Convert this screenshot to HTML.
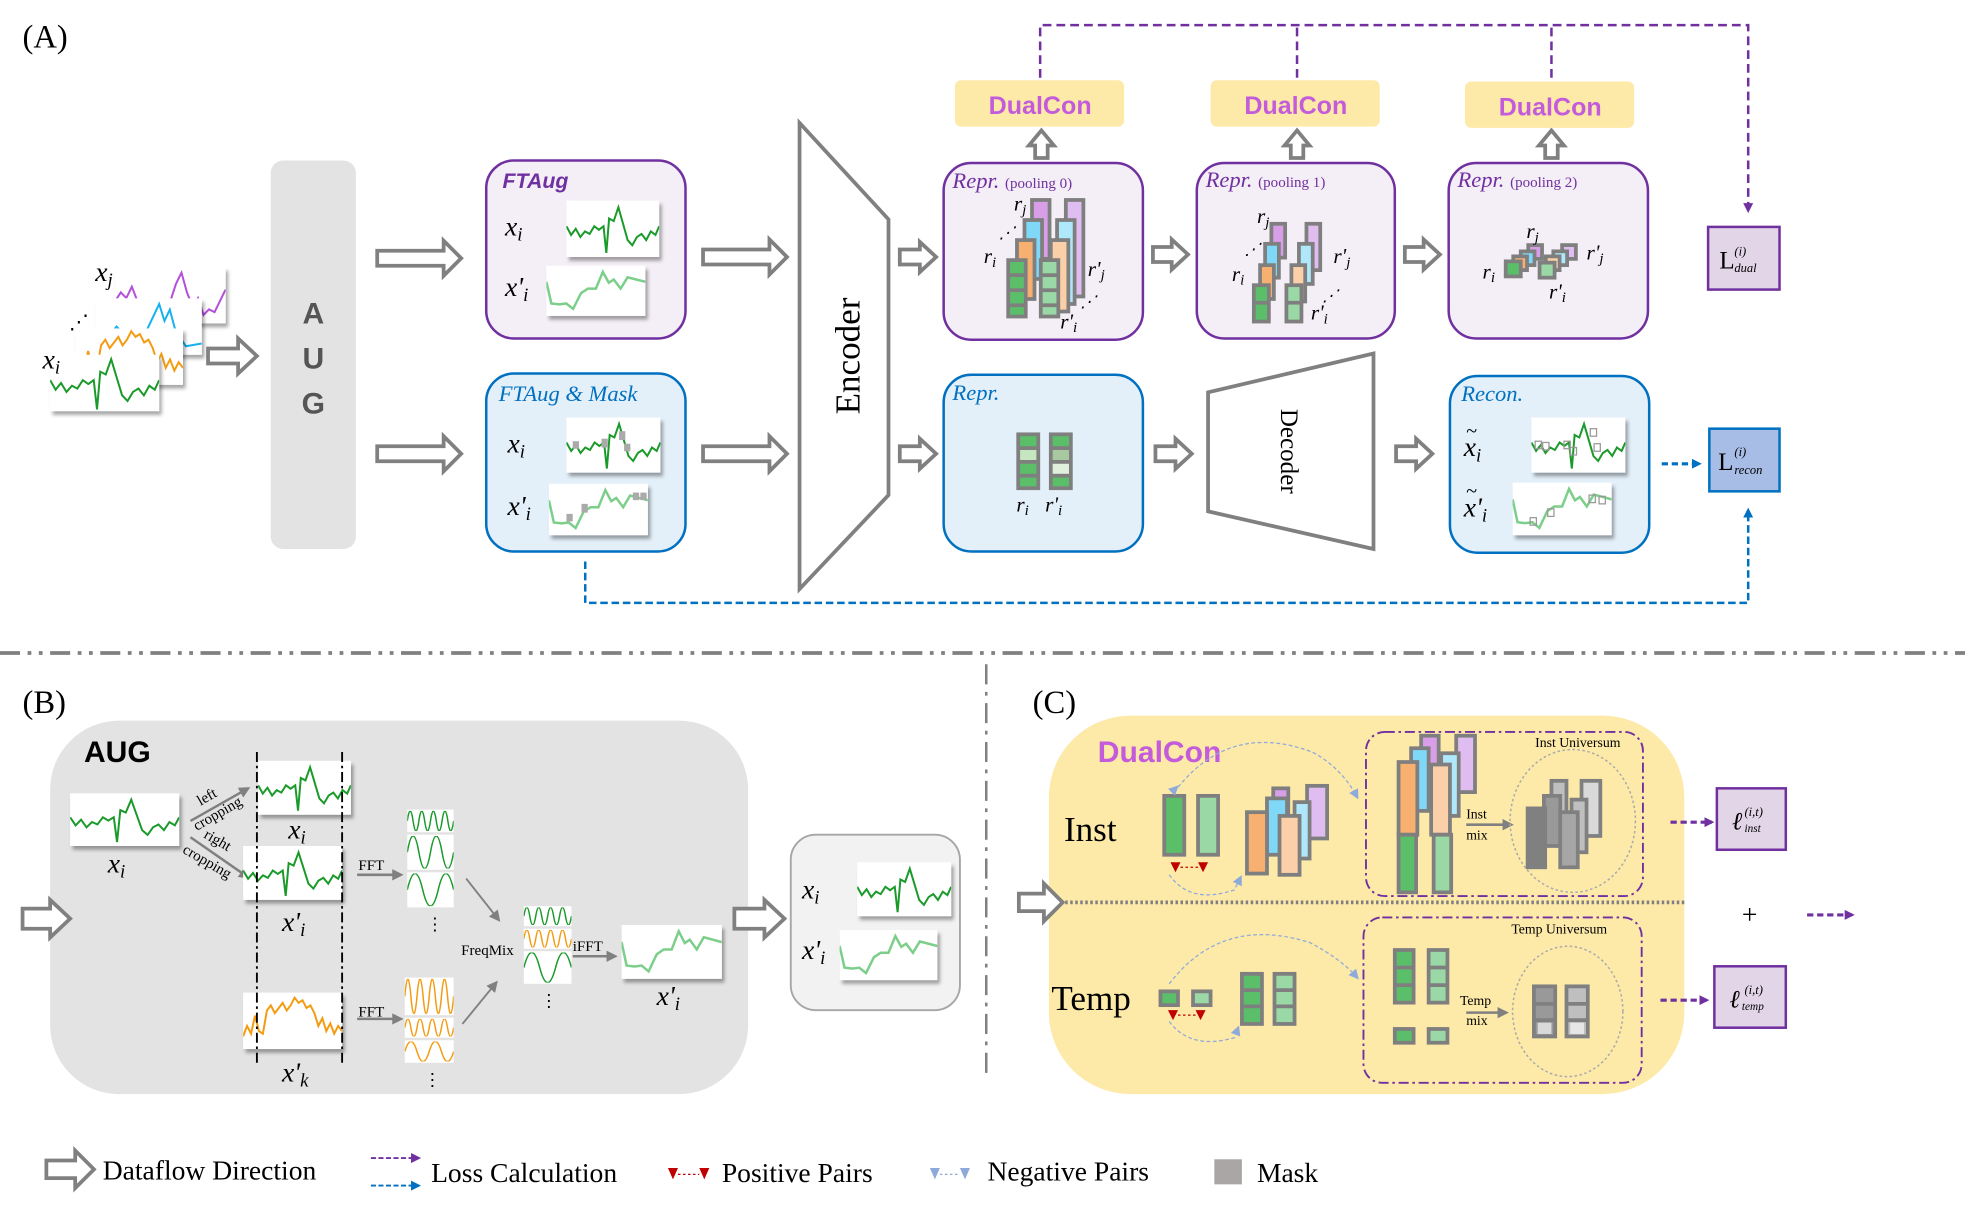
<!DOCTYPE html>
<html><head><meta charset="utf-8"><style>
html,body{margin:0;padding:0;background:#fff}
svg{display:block}
text{font-family:"Liberation Serif",serif}
.m,.m text{font-family:"Liberation Serif",serif;font-style:italic}
.s,.s text{font-family:"Liberation Sans",sans-serif}
</style></head><body>
<svg width="1965" height="1207" viewBox="0 0 1568 963" xmlns="http://www.w3.org/2000/svg">
<defs>
<filter id="sh" x="-10%" y="-10%" width="130%" height="140%"><feDropShadow dx="2" dy="3" stdDeviation="1.5" flood-color="#000" flood-opacity="0.35"/></filter>
<symbol id="g1" viewBox="0 0 100 100" preserveAspectRatio="none"><polyline points="0,45 5,62 10,50 15,66 20,55 25,60 30,45 35,52 40,45 43,97 46,30 51,35 56,8 61,40 66,72 71,82 76,66 81,60 86,72 91,55 96,62 100,45" fill="none" stroke="#1a9a2a" stroke-width="2" vector-effect="non-scaling-stroke"/></symbol>
<symbol id="g2" viewBox="0 0 100 100" preserveAspectRatio="none"><polyline points="0,30 5,78 13,80 20,78 27,90 35,55 42,45 50,45 57,8 63,32 68,25 75,45 82,20 100,30" fill="none" stroke="#7ccf8a" stroke-width="2.5" vector-effect="non-scaling-stroke"/></symbol>
<symbol id="o1" viewBox="0 0 100 100" preserveAspectRatio="none"><polyline points="0,80 4,60 8,75 12,40 16,70 20,75 24,30 28,20 32,35 36,25 40,15 44,30 48,20 52,5 56,15 60,10 64,25 68,20 72,35 76,60 80,45 84,70 88,55 92,75 96,60 100,70" fill="none" stroke="#f39c12" stroke-width="2" vector-effect="non-scaling-stroke"/></symbol>
<symbol id="p1" viewBox="0 0 100 100" preserveAspectRatio="none"><polyline points="0,60 5,45 10,55 15,35 20,60 25,90 30,80 40,85 50,60 55,30 60,10 65,45 70,70 75,55 80,85 85,75 90,80 95,60 100,40" fill="none" stroke="#b34fd9" stroke-width="2" vector-effect="non-scaling-stroke"/></symbol>
<symbol id="b1" viewBox="0 0 100 100" preserveAspectRatio="none"><polyline points="0,70 10,75 20,50 25,60 35,80 45,70 55,30 60,10 65,40 70,20 75,55 85,85 100,80" fill="none" stroke="#16b1ef" stroke-width="2" vector-effect="non-scaling-stroke"/></symbol>
<symbol id="w4" viewBox="0 0 100 100" preserveAspectRatio="none"><path d="M0,50 Q6.25,-50 12.5,50 Q18.75,150 25,50 Q31.25,-50 37.5,50 Q43.75,150 50,50 Q56.25,-50 62.5,50 Q68.75,150 75,50 Q81.25,-50 87.5,50 Q93.75,150 100,50" fill="none" stroke="currentColor" stroke-width="1.5" vector-effect="non-scaling-stroke"/></symbol>
<symbol id="w2" viewBox="0 0 100 100" preserveAspectRatio="none"><path d="M0,50 Q12.5,-50 25,50 Q37.5,150 50,50 Q62.5,-50 75,50 Q87.5,150 100,50" fill="none" stroke="currentColor" stroke-width="1.5" vector-effect="non-scaling-stroke"/></symbol>
<symbol id="w1" viewBox="0 0 100 100" preserveAspectRatio="none"><path d="M0,50 Q16.7,-50 33.3,50 Q50,150 66.7,50 Q83.3,-50 100,50" fill="none" stroke="currentColor" stroke-width="1.5" vector-effect="non-scaling-stroke"/></symbol>
<marker id="ap" markerWidth="8" markerHeight="8" refX="6" refY="4" orient="auto" markerUnits="userSpaceOnUse"><path d="M0,0 L8,4 L0,8z" fill="#7030a0"/></marker>
<marker id="ab" markerWidth="8" markerHeight="8" refX="6" refY="4" orient="auto" markerUnits="userSpaceOnUse"><path d="M0,0 L8,4 L0,8z" fill="#0070c0"/></marker>
<marker id="ag" markerWidth="9" markerHeight="9" refX="7" refY="4.5" orient="auto" markerUnits="userSpaceOnUse"><path d="M0,0 L9,4.5 L0,9z" fill="#808080"/></marker>
<marker id="an" markerWidth="8" markerHeight="8" refX="6" refY="4" orient="auto" markerUnits="userSpaceOnUse"><path d="M0,0 L8,4 L0,8z" fill="#8eaadb"/></marker>
</defs>

<text x="18" y="38" font-size="26">(A)</text>

<rect x="92" y="213" width="88" height="45" fill="#fff" filter="url(#sh)"/><use href="#p1" x="92" y="213" width="88" height="45"/>
<rect x="76" y="238" width="85" height="45" fill="#fff" filter="url(#sh)"/><use href="#b1" x="76" y="238" width="85" height="45"/>
<rect x="60" y="262" width="86" height="45" fill="#fff" filter="url(#sh)"/><use href="#o1" x="60" y="262" width="86" height="45"/>
<rect x="40" y="283" width="87" height="45" fill="#fff" filter="url(#sh)"/><use href="#g1" x="40" y="283" width="87" height="45"/>
<text class="m" x="76" y="224" font-size="22">x<tspan font-size="15" dy="4">j</tspan></text>
<text x="55" y="262" font-size="16">⋰</text>
<text class="m" x="34" y="294" font-size="22">x<tspan font-size="15" dy="4">i</tspan></text>

<g fill="#fff" stroke="#808080" stroke-width="3" stroke-linejoin="miter">
<path d="M166,278 H190 V270 L205,284 L190,298 V290 H166Z"/>
<path d="M301,200 H354 V192 L368,206 L354,220 V212 H301Z"/>
<path d="M301,356 H354 V348 L368,362 L354,376 V368 H301Z"/>
<path d="M561,199 H614 V191 L628,205 L614,219 V211 H561Z"/>
<path d="M561,356 H614 V348 L628,362 L614,376 V368 H561Z"/>
<path d="M718,199 H734 V193 L747,205 L734,217 V211 H718Z"/>
<path d="M718,356 H734 V350 L747,362 L734,374 V368 H718Z"/>
<path d="M920,197 H935 V191 L948,203 L935,215 V209 H920Z"/>
<path d="M1121,197 H1136 V191 L1149,203 L1136,215 V209 H1121Z"/>
<path d="M922,356 H938 V350 L951,362 L938,374 V368 H922Z"/>
<path d="M1114,356 H1130 V350 L1143,362 L1130,374 V368 H1114Z"/>
<path d="M826,126 V116 H821 L831,104 L841,116 H836 V126Z"/>
<path d="M1030,126 V116 H1025 L1035,104 L1045,116 H1040 V126Z"/>
<path d="M1233,126 V116 H1228 L1238,104 L1248,116 H1243 V126Z"/>
</g>

<rect x="216" y="128" width="68" height="310" rx="10" fill="#e3e3e3"/>
<g class="s" font-size="24" font-weight="bold" fill="#555" text-anchor="middle">
<text x="250" y="258">A</text><text x="250" y="294">U</text><text x="250" y="330">G</text></g>

<rect x="388" y="128" width="159" height="142" rx="22" fill="#f4eff6" stroke="#7030a0" stroke-width="2"/>
<text x="401" y="150" class="s" font-size="17" font-style="italic" font-weight="bold" fill="#7030a0">FTAug</text>
<text class="m" x="403" y="188" font-size="22">x<tspan font-size="15" dy="4">i</tspan></text>
<text class="m" x="403" y="236" font-size="22">x'<tspan font-size="15" dy="4">i</tspan></text>
<rect x="452" y="160" width="74" height="45" fill="#fff" filter="url(#sh)"/><use href="#g1" x="452" y="162" width="74" height="41"/>
<rect x="436" y="212" width="79" height="40" fill="#fff" filter="url(#sh)"/><use href="#g2" x="436" y="214" width="79" height="36"/>

<rect x="388" y="298" width="159" height="142" rx="22" fill="#e3eff9" stroke="#0070c0" stroke-width="2"/>
<text class="m" x="398" y="320" font-size="18" fill="#0070c0">FTAug &amp; Mask</text>
<text class="m" x="405" y="361" font-size="22">x<tspan font-size="15" dy="4">i</tspan></text>
<text class="m" x="405" y="411" font-size="22">x'<tspan font-size="15" dy="4">i</tspan></text>
<rect x="452" y="333" width="75" height="44" fill="#fff" filter="url(#sh)"/><use href="#g1" x="452" y="335" width="75" height="40"/>
<g fill="#aaa"><rect x="457" y="352" width="5" height="6"/><rect x="480" y="350" width="5" height="7"/><rect x="494" y="344" width="5" height="7"/><rect x="498" y="354" width="5" height="6"/></g>
<rect x="438" y="386" width="79" height="41" fill="#fff" filter="url(#sh)"/><use href="#g2" x="438" y="388" width="79" height="37"/>
<g fill="#aaa"><rect x="452" y="410" width="5" height="6"/><rect x="464" y="402" width="5" height="7"/><rect x="505" y="393" width="5" height="6"/><rect x="511" y="393" width="5" height="6"/></g>

<path d="M638,98 L709,175 L709,395 L638,470Z" fill="#fff" stroke="#808080" stroke-width="3"/>
<text x="0" y="0" font-size="28" transform="translate(686,284) rotate(-90)" text-anchor="middle">Encoder</text>

<g class="s" font-size="20" font-weight="bold" fill="#c35bdb" text-anchor="middle">
<rect x="762" y="64" width="135" height="37" rx="5" fill="#fde9a8"/><text x="830" y="91">DualCon</text>
<rect x="966" y="64" width="135" height="37" rx="5" fill="#fde9a8"/><text x="1034" y="91">DualCon</text>
<rect x="1169" y="65" width="135" height="37" rx="5" fill="#fde9a8"/><text x="1237" y="92">DualCon</text>
</g>
<path d="M830,62 V20 H1395 V168" fill="none" stroke="#7030a0" stroke-width="2" stroke-dasharray="7,4" marker-end="url(#ap)"/>
<path d="M1035,62 V20 M1238,62 V20" fill="none" stroke="#7030a0" stroke-width="2" stroke-dasharray="7,4"/>

<g fill="#f4eff6" stroke="#7030a0" stroke-width="2">
<rect x="753" y="130" width="159" height="141" rx="22"/>
<rect x="955" y="130" width="158" height="140" rx="22"/>
<rect x="1156" y="130" width="159" height="140" rx="22"/>
</g>
<g class="m" fill="#7030a0" font-size="18">
<text x="760" y="150">Repr. <tspan font-size="12" font-style="normal">(pooling 0)</tspan></text>
<text x="962" y="149">Repr. <tspan font-size="12" font-style="normal">(pooling 1)</tspan></text>
<text x="1163" y="149">Repr. <tspan font-size="12" font-style="normal">(pooling 2)</tspan></text>
</g>
<g>
<rect x="849" y="158" width="17" height="80" fill="#7f7f7f"/><rect x="852" y="161" width="11" height="74" fill="#e0bdf0"/>
<rect x="822" y="158" width="17" height="50" fill="#7f7f7f"/><rect x="825" y="161" width="11" height="44" fill="#d89ee8"/>
<rect x="842" y="174" width="17" height="70" fill="#7f7f7f"/><rect x="845" y="177" width="11" height="64" fill="#b0e8fb"/>
<rect x="816" y="174" width="17" height="50" fill="#7f7f7f"/><rect x="819" y="177" width="11" height="44" fill="#7fd8f8"/>
<rect x="837" y="190" width="17" height="60" fill="#7f7f7f"/><rect x="840" y="193" width="11" height="54" fill="#fbd0a8"/>
<rect x="810" y="190" width="17" height="50" fill="#7f7f7f"/><rect x="813" y="193" width="11" height="44" fill="#f8b070"/>
<rect x="803" y="206" width="17" height="48" fill="#7f7f7f"/>
<rect x="806" y="209" width="11" height="9" fill="#5bbf6a"/><rect x="806" y="221" width="11" height="9" fill="#5bbf6a"/><rect x="806" y="233" width="11" height="9" fill="#5bbf6a"/><rect x="806" y="245" width="11" height="6" fill="#5bbf6a"/>
<rect x="829" y="206" width="17" height="48" fill="#7f7f7f"/>
<rect x="832" y="209" width="11" height="9" fill="#9ad8a5"/><rect x="832" y="221" width="11" height="9" fill="#9ad8a5"/><rect x="832" y="233" width="11" height="9" fill="#9ad8a5"/><rect x="832" y="245" width="11" height="6" fill="#9ad8a5"/>
</g>
<g class="m" font-size="17">
<text x="809" y="168">r<tspan font-size="12" dy="3">j</tspan></text>
<text x="785" y="210">r<tspan font-size="12" dy="3">i</tspan></text>
<text x="868" y="220">r'<tspan font-size="12" dy="3">j</tspan></text>
<text x="846" y="262">r'<tspan font-size="12" dy="3">i</tspan></text>
<text x="797" y="190" font-size="13" font-style="normal">⋰</text>
<text x="862" y="245" font-size="13" font-style="normal">⋰</text>
</g>
<g>
<rect x="1041" y="177" width="14" height="40" fill="#7f7f7f"/><rect x="1044" y="180" width="8" height="34" fill="#e0bdf0"/>
<rect x="1013" y="177" width="14" height="30" fill="#7f7f7f"/><rect x="1016" y="180" width="8" height="24" fill="#d89ee8"/>
<rect x="1035" y="193" width="14" height="35" fill="#7f7f7f"/><rect x="1038" y="196" width="8" height="29" fill="#b0e8fb"/>
<rect x="1008" y="193" width="14" height="30" fill="#7f7f7f"/><rect x="1011" y="196" width="8" height="24" fill="#7fd8f8"/>
<rect x="1029" y="210" width="14" height="32" fill="#7f7f7f"/><rect x="1032" y="213" width="8" height="26" fill="#fbd0a8"/>
<rect x="1004" y="210" width="14" height="30" fill="#7f7f7f"/><rect x="1007" y="213" width="8" height="24" fill="#f8b070"/>
<rect x="999" y="226" width="15" height="32" fill="#7f7f7f"/><rect x="1002" y="229" width="9" height="11" fill="#5bbf6a"/><rect x="1002" y="243" width="9" height="12" fill="#5bbf6a"/>
<rect x="1025" y="226" width="15" height="32" fill="#7f7f7f"/><rect x="1028" y="229" width="9" height="11" fill="#9ad8a5"/><rect x="1028" y="243" width="9" height="12" fill="#9ad8a5"/>
</g>
<g class="m" font-size="17">
<text x="1003" y="178">r<tspan font-size="12" dy="3">j</tspan></text>
<text x="983" y="224">r<tspan font-size="12" dy="3">i</tspan></text>
<text x="1064" y="210">r'<tspan font-size="12" dy="3">j</tspan></text>
<text x="1046" y="255">r'<tspan font-size="12" dy="3">i</tspan></text>
<text x="993" y="203" font-size="13" font-style="normal">⋰</text>
<text x="1055" y="240" font-size="13" font-style="normal">⋰</text>
</g>
<g>
<rect x="1218" y="194" width="14" height="14" fill="#7f7f7f"/><rect x="1221" y="197" width="8" height="8" fill="#d89ee8"/>
<rect x="1245" y="194" width="14" height="14" fill="#7f7f7f"/><rect x="1248" y="197" width="8" height="8" fill="#e0bdf0"/>
<rect x="1212" y="199" width="14" height="14" fill="#7f7f7f"/><rect x="1215" y="202" width="8" height="8" fill="#7fd8f8"/>
<rect x="1238" y="199" width="14" height="14" fill="#7f7f7f"/><rect x="1241" y="202" width="8" height="8" fill="#b0e8fb"/>
<rect x="1206" y="203" width="14" height="14" fill="#7f7f7f"/><rect x="1209" y="206" width="8" height="8" fill="#f8b070"/>
<rect x="1232" y="203" width="14" height="14" fill="#7f7f7f"/><rect x="1235" y="206" width="8" height="8" fill="#fbd0a8"/>
<rect x="1200" y="207" width="15" height="15" fill="#7f7f7f"/><rect x="1203" y="210" width="9" height="9" fill="#5bbf6a"/>
<rect x="1227" y="208" width="15" height="15" fill="#7f7f7f"/><rect x="1230" y="211" width="9" height="9" fill="#9ad8a5"/>
</g>
<g class="m" font-size="17">
<text x="1218" y="190">r<tspan font-size="12" dy="3">j</tspan></text>
<text x="1183" y="222">r<tspan font-size="12" dy="3">i</tspan></text>
<text x="1266" y="207">r'<tspan font-size="12" dy="3">j</tspan></text>
<text x="1236" y="238">r'<tspan font-size="12" dy="3">i</tspan></text>
</g>

<rect x="1363" y="181" width="57" height="50" fill="#e1d5e7" stroke="#7030a0" stroke-width="2"/>
<text x="1372" y="214" font-size="20">L</text><text class="m" x="1384" y="204" font-size="10">(i)</text><text class="m" x="1384" y="217" font-size="10">dual</text>

<rect x="753" y="299" width="159" height="141" rx="22" fill="#e3eff9" stroke="#0070c0" stroke-width="2"/>
<text class="m" x="760" y="319" font-size="18" fill="#0070c0">Repr.</text>
<rect x="811" y="345" width="19" height="46" fill="#7f7f7f"/>
<rect x="814" y="348" width="13" height="8" fill="#5bbf6a"/><rect x="814" y="359" width="13" height="8" fill="#c6e6c0"/><rect x="814" y="370" width="13" height="8" fill="#5bbf6a"/><rect x="814" y="381" width="13" height="7" fill="#5bbf6a"/>
<rect x="837" y="345" width="19" height="46" fill="#7f7f7f"/>
<rect x="840" y="348" width="13" height="8" fill="#5bbf6a"/><rect x="840" y="359" width="13" height="8" fill="#a8c8a0"/><rect x="840" y="370" width="13" height="8" fill="#e0f0dc"/><rect x="840" y="381" width="13" height="7" fill="#5bbf6a"/>
<text class="m" x="811" y="408" font-size="17">r<tspan font-size="12" dy="3">i</tspan></text>
<text class="m" x="834" y="408" font-size="17">r'<tspan font-size="12" dy="3">i</tspan></text>

<path d="M964,313 L1096,282 L1096,438 L964,408Z" fill="#fff" stroke="#808080" stroke-width="3"/>
<text font-size="20" transform="translate(1022,360) rotate(90)" text-anchor="middle">Decoder</text>

<rect x="1157" y="300" width="159" height="141" rx="22" fill="#e3eff9" stroke="#0070c0" stroke-width="2"/>
<text class="m" x="1166" y="320" font-size="18" fill="#0070c0">Recon.</text>
<text class="m" x="1168" y="364" font-size="22">x<tspan font-size="15" dy="4">i</tspan></text><text x="1170" y="349" font-size="16">~</text>
<text class="m" x="1168" y="412" font-size="22">x'<tspan font-size="15" dy="4">i</tspan></text><text x="1170" y="397" font-size="16">~</text>
<rect x="1222" y="333" width="75" height="44" fill="#fff" filter="url(#sh)"/><use href="#g1" x="1222" y="335" width="75" height="40"/>
<g fill="none" stroke="#999" stroke-width="1"><rect x="1225" y="352" width="5" height="6"/><rect x="1231" y="353" width="5" height="6"/><rect x="1248" y="352" width="5" height="6"/><rect x="1253" y="357" width="5" height="6"/><rect x="1269" y="342" width="5" height="6"/><rect x="1272" y="354" width="5" height="6"/></g>
<rect x="1207" y="385" width="79" height="42" fill="#fff" filter="url(#sh)"/><use href="#g2" x="1207" y="387" width="79" height="38"/>
<g fill="none" stroke="#999" stroke-width="1"><rect x="1221" y="413" width="5" height="6"/><rect x="1235" y="406" width="5" height="6"/><rect x="1268" y="395" width="5" height="6"/><rect x="1276" y="396" width="5" height="6"/></g>

<rect x="1364" y="342" width="56" height="50" fill="#a8bde6" stroke="#0070c0" stroke-width="2"/>
<text x="1371" y="375" font-size="20">L</text><text class="m" x="1384" y="364" font-size="10">(i)</text><text class="m" x="1384" y="378" font-size="10">recon</text>
<path d="M1326,370 H1356" stroke="#0070c0" stroke-width="2.5" stroke-dasharray="5,3" marker-end="url(#ab)"/>
<path d="M467,448 V481 H1395 V407" fill="none" stroke="#0070c0" stroke-width="2" stroke-dasharray="6,3" marker-end="url(#ab)"/>

<path d="M0,521 H1568" stroke="#808080" stroke-width="3" stroke-dasharray="16,6,3,6,3,6"/>
<path d="M787,530 V862" stroke="#808080" stroke-width="2" stroke-dasharray="16,6,3,6"/>

<text x="18" y="569" font-size="26">(B)</text>
<rect x="40" y="575" width="557" height="298" rx="55" fill="#e3e3e3"/>
<text class="s" x="67" y="608" font-size="24" font-weight="bold">AUG</text>
<path d="M18,725 H40 V718 L56,733 L40,748 V741 H18Z" fill="#fff" stroke="#808080" stroke-width="3"/>
<rect x="56" y="633" width="87" height="42" fill="#fff" filter="url(#sh)"/><use href="#g1" x="56" y="635" width="87" height="38"/>
<text class="m" x="86" y="696" font-size="22">x<tspan font-size="15" dy="4">i</tspan></text>
<line x1="152" y1="655" x2="198" y2="629" stroke="#808080" stroke-width="2" marker-end="url(#ag)"/>
<line x1="152" y1="668" x2="198" y2="700" stroke="#808080" stroke-width="2" marker-end="url(#ag)"/>
<text font-size="12" transform="translate(160,643) rotate(-30)">left</text>
<text font-size="12" transform="translate(157,663) rotate(-30)">cropping</text>
<text font-size="12" transform="translate(162,668) rotate(30)">right</text>
<text font-size="12" transform="translate(145,680) rotate(30)">cropping</text>
<rect x="206" y="607" width="74" height="43" fill="#fff" filter="url(#sh)"/><use href="#g1" x="206" y="609" width="74" height="39"/>
<rect x="194" y="675" width="79" height="43" fill="#fff" filter="url(#sh)"/><use href="#g1" x="194" y="677" width="79" height="39"/>
<rect x="194" y="792" width="79" height="45" fill="#fff" filter="url(#sh)"/><use href="#o1" x="194" y="794" width="79" height="41"/>
<path d="M205,600 V850 M273,600 V850" stroke="#000" stroke-width="1.5" stroke-dasharray="8,3,2,3"/>
<text class="m" x="230" y="669" font-size="22">x<tspan font-size="15" dy="4">i</tspan></text>
<text class="m" x="225" y="743" font-size="22">x'<tspan font-size="15" dy="4">i</tspan></text>
<text class="m" x="225" y="863" font-size="22">x'<tspan font-size="15" dy="4">k</tspan></text>
<line x1="285" y1="698" x2="320" y2="698" stroke="#808080" stroke-width="2" marker-end="url(#ag)"/>
<text x="286" y="694" font-size="12">FFT</text>
<line x1="285" y1="813" x2="320" y2="813" stroke="#808080" stroke-width="2" marker-end="url(#ag)"/>
<text x="286" y="811" font-size="12">FFT</text>
<g color="#1a9a2a">
<rect x="325" y="646" width="37" height="18" fill="#fff"/><use href="#w4" x="325" y="647" width="37" height="16"/>
<rect x="325" y="666" width="37" height="28" fill="#fff"/><use href="#w2" x="325" y="667" width="37" height="26"/>
<rect x="325" y="696" width="37" height="28" fill="#fff"/><use href="#w1" x="325" y="697" width="37" height="26"/>
</g>
<text x="340" y="742" font-size="14">⋮</text>
<g color="#f39c12">
<rect x="323" y="780" width="39" height="30" fill="#fff"/><use href="#w4" x="323" y="781" width="39" height="28"/>
<rect x="323" y="812" width="39" height="16" fill="#fff"/><use href="#w4" x="323" y="813" width="39" height="14"/>
<rect x="323" y="830" width="39" height="18" fill="#fff"/><use href="#w2" x="323" y="831" width="39" height="16"/>
</g>
<text x="338" y="866" font-size="14">⋮</text>
<line x1="372" y1="701" x2="398" y2="734" stroke="#808080" stroke-width="1.5" marker-end="url(#ag)"/>
<line x1="369" y1="817" x2="396" y2="784" stroke="#808080" stroke-width="1.5" marker-end="url(#ag)"/>
<text x="368" y="762" font-size="12">FreqMix</text>
<rect x="418" y="723" width="38" height="16" fill="#fff"/><use href="#w4" x="418" y="724" width="38" height="14" color="#1a9a2a"/>
<rect x="418" y="741" width="38" height="16" fill="#fff"/><use href="#w4" x="418" y="742" width="38" height="14" color="#f39c12"/>
<rect x="418" y="759" width="38" height="26" fill="#fff"/><use href="#w1" x="418" y="760" width="38" height="24" color="#1a9a2a"/>
<text x="431" y="803" font-size="14">⋮</text>
<text x="457" y="759" font-size="12">iFFT</text>
<line x1="457" y1="763" x2="491" y2="763" stroke="#808080" stroke-width="2" marker-end="url(#ag)"/>
<rect x="496" y="738" width="80" height="43" fill="#fff" filter="url(#sh)"/><use href="#g2" x="496" y="740" width="80" height="39"/>
<text class="m" x="524" y="802" font-size="22">x'<tspan font-size="15" dy="4">i</tspan></text>
<path d="M586,725 H610 V718 L626,733 L610,748 V741 H586Z" fill="#fff" stroke="#808080" stroke-width="3"/>
<rect x="631" y="666" width="135" height="140" rx="20" fill="#f2f2f2" stroke="#a6a6a6" stroke-width="1.5"/>
<text class="m" x="640" y="717" font-size="22">x<tspan font-size="15" dy="4">i</tspan></text>
<text class="m" x="640" y="765" font-size="22">x'<tspan font-size="15" dy="4">i</tspan></text>
<rect x="684" y="688" width="75" height="43" fill="#fff" filter="url(#sh)"/><use href="#g1" x="684" y="690" width="75" height="39"/>
<rect x="670" y="742" width="78" height="40" fill="#fff" filter="url(#sh)"/><use href="#g2" x="670" y="744" width="78" height="36"/>

<text x="824" y="569" font-size="26">(C)</text>
<rect x="837" y="571" width="507" height="302" rx="65" fill="#fde9a8"/>
<text class="s" x="876" y="608" font-size="24" font-weight="bold" fill="#c35bdb">DualCon</text>
<text x="849" y="671" font-size="28">Inst</text>
<text x="839" y="806" font-size="28">Temp</text>
<path d="M822,720 H1345" stroke="#808080" stroke-width="3" stroke-dasharray="2,2"/>
<path d="M813,713 H833 V705 L848,720 L833,735 V727 H813Z" fill="#fff" stroke="#808080" stroke-width="3"/>
<rect x="929" y="635" width="16" height="47" fill="#5bbf6a" stroke="#7f7f7f" stroke-width="3"/>
<rect x="956" y="635" width="16" height="47" fill="#9ad8a5" stroke="#7f7f7f" stroke-width="3"/>
<path d="M934,688 L942,688 L938,696Z M956,688 L964,688 L960,696Z" fill="#c00000"/>
<path d="M942,692 H956" stroke="#c00000" stroke-width="1" stroke-dasharray="2,2"/>
<g stroke="#7f7f7f" stroke-width="3">
<rect x="1043" y="627" width="16" height="42" fill="#e0bdf0"/><rect x="1016" y="629" width="12" height="25" fill="#d89ee8"/>
<rect x="1011" y="637" width="16" height="45" fill="#7fd8f8"/><rect x="1033" y="640" width="12" height="45" fill="#b0e8fb"/>
<rect x="995" y="648" width="16" height="49" fill="#f8b070"/><rect x="1021" y="651" width="16" height="47" fill="#fbd0a8"/>
</g>
<path d="M937,632 Q980,575 1047,600 Q1070,612 1083,636" fill="none" stroke="#8eaadb" stroke-width="1" stroke-dasharray="3,2" marker-end="url(#an)"/>
<path d="M935,632 L939,628" stroke="#8eaadb" marker-end="url(#an)"/>
<path d="M933,698 Q950,722 985,710 L990,700" fill="none" stroke="#8eaadb" stroke-width="1" stroke-dasharray="3,2" marker-end="url(#an)"/>
<rect x="1090" y="584" width="221" height="131" rx="15" fill="none" stroke="#7030a0" stroke-width="1.5" stroke-dasharray="8,3,2,3"/>
<text x="1225" y="596" font-size="11">Inst Universum</text>
<g stroke="#7f7f7f" stroke-width="3">
<rect x="1162" y="587" width="15" height="45" fill="#e0bdf0"/><rect x="1134" y="587" width="14" height="30" fill="#d89ee8"/>
<rect x="1126" y="597" width="14" height="50" fill="#7fd8f8"/><rect x="1150" y="601" width="14" height="50" fill="#b0e8fb"/>
<rect x="1116" y="608" width="15" height="58" fill="#f8b070"/><rect x="1142" y="610" width="15" height="56" fill="#fbd0a8"/>
<rect x="1116" y="666" width="14" height="46" fill="#5bbf6a"/><rect x="1144" y="666" width="14" height="46" fill="#9ad8a5"/>
</g>
<text x="1170" y="653" font-size="11">Inst</text><text x="1170" y="670" font-size="11">mix</text>
<line x1="1170" y1="658" x2="1206" y2="658" stroke="#808080" stroke-width="2" marker-end="url(#ag)"/>
<ellipse cx="1255" cy="655" rx="50" ry="57" fill="none" stroke="#aaa" stroke-width="1.2" stroke-dasharray="2,2"/>
<g stroke="#808080" stroke-width="3">
<rect x="1262" y="623" width="15" height="44" fill="#d9d9d9"/><rect x="1238" y="623" width="12" height="32" fill="#bfbfbf"/>
<rect x="1232" y="635" width="13" height="40" fill="#999"/><rect x="1254" y="638" width="12" height="42" fill="#bfbfbf"/>
<rect x="1219" y="645" width="14" height="47" fill="#808080"/><rect x="1245" y="648" width="14" height="44" fill="#a6a6a6"/>
</g>
<g stroke="#7f7f7f" stroke-width="3">
<rect x="926" y="791" width="14" height="11" fill="#5bbf6a"/><rect x="952" y="791" width="14" height="11" fill="#9ad8a5"/>
<rect x="991" y="777" width="16" height="40" fill="#5bbf6a"/><rect x="1017" y="777" width="16" height="40" fill="#9ad8a5"/>
</g>
<path d="M991,790 H1007 M991,803 H1007 M1017,790 H1033 M1017,803 H1033" stroke="#7f7f7f" stroke-width="3"/>
<path d="M932,806 L940,806 L936,814Z M954,806 L962,806 L958,814Z" fill="#c00000"/>
<path d="M940,810 H954" stroke="#c00000" stroke-width="1" stroke-dasharray="2,2"/>
<path d="M933,785 Q975,730 1045,752 Q1070,765 1083,780" fill="none" stroke="#8eaadb" stroke-width="1" stroke-dasharray="3,2" marker-end="url(#an)"/>
<path d="M933,815 Q950,838 985,828 L988,820" fill="none" stroke="#8eaadb" stroke-width="1" stroke-dasharray="3,2" marker-end="url(#an)"/>
<rect x="1088" y="732" width="222" height="132" rx="15" fill="none" stroke="#7030a0" stroke-width="1.5" stroke-dasharray="8,3,2,3"/>
<text x="1206" y="745" font-size="11">Temp Universum</text>
<g stroke="#7f7f7f" stroke-width="3">
<rect x="1113" y="758" width="15" height="42" fill="#5bbf6a"/><rect x="1140" y="758" width="15" height="42" fill="#9ad8a5"/>
<rect x="1113" y="821" width="15" height="11" fill="#5bbf6a"/><rect x="1140" y="821" width="15" height="11" fill="#9ad8a5"/>
</g>
<path d="M1113,772 H1128 M1113,786 H1128 M1140,772 H1155 M1140,786 H1155" stroke="#7f7f7f" stroke-width="3"/>
<text x="1165" y="802" font-size="11">Temp</text><text x="1170" y="818" font-size="11">mix</text>
<line x1="1170" y1="808" x2="1202" y2="808" stroke="#808080" stroke-width="2" marker-end="url(#ag)"/>
<ellipse cx="1251" cy="807" rx="44" ry="52" fill="none" stroke="#aaa" stroke-width="1.2" stroke-dasharray="2,2"/>
<g stroke="#808080" stroke-width="3">
<rect x="1224" y="787" width="17" height="40" fill="#999"/><rect x="1250" y="787" width="17" height="40" fill="#bfbfbf"/>
</g>
<rect x="1227" y="816" width="11" height="9" fill="#d9d9d9"/><rect x="1253" y="816" width="11" height="9" fill="#e6e6e6"/>
<path d="M1224,801 H1241 M1224,814 H1241 M1250,801 H1267 M1250,814 H1267" stroke="#808080" stroke-width="3"/>
<rect x="1370" y="629" width="55" height="49" fill="#e1d5e7" stroke="#7030a0" stroke-width="2"/>
<text class="m" x="1382" y="662" font-size="20">ℓ</text><text class="m" x="1392" y="651" font-size="10">(i,t)</text><text class="m" x="1392" y="664" font-size="9">inst</text>
<rect x="1368" y="771" width="57" height="49" fill="#e1d5e7" stroke="#7030a0" stroke-width="2"/>
<text class="m" x="1380" y="804" font-size="20">ℓ</text><text class="m" x="1392" y="793" font-size="10">(i,t)</text><text class="m" x="1390" y="806" font-size="9">temp</text>
<g stroke="#7030a0" stroke-width="2.5" stroke-dasharray="5,3">
<path d="M1333,656 H1366" marker-end="url(#ap)"/>
<path d="M1325,798 H1362" marker-end="url(#ap)"/>
<path d="M1442,730 H1478" marker-end="url(#ap)"/>
</g>
<text x="1390" y="737" font-size="22">+</text>

<path d="M37,926 H60 V918 L75,933 L60,948 V940 H37Z" fill="#fff" stroke="#808080" stroke-width="3"/>
<text x="82" y="941" font-size="22">Dataflow Direction</text>
<path d="M296,924 H334" stroke="#7030a0" stroke-width="1.5" stroke-dasharray="4,2" marker-end="url(#ap)"/>
<path d="M296,946 H334" stroke="#0070c0" stroke-width="1.5" stroke-dasharray="4,2" marker-end="url(#ab)"/>
<text x="344" y="943" font-size="22">Loss Calculation</text>
<path d="M533,932 L541,932 L537,941Z M558,932 L566,932 L562,941Z" fill="#c00000"/>
<path d="M541,937 H558" stroke="#c00000" stroke-width="1" stroke-dasharray="2,2"/>
<text x="576" y="943" font-size="22">Positive Pairs</text>
<path d="M742,932 L750,932 L746,941Z M766,932 L774,932 L770,941Z" fill="#8eaadb"/>
<path d="M750,937 H766" stroke="#8eaadb" stroke-width="1" stroke-dasharray="2,2"/>
<text x="788" y="942" font-size="22">Negative Pairs</text>
<rect x="969" y="925" width="22" height="20" fill="#aaa6a6"/>
<text x="1003" y="943" font-size="22">Mask</text>
</svg>
</body></html>
